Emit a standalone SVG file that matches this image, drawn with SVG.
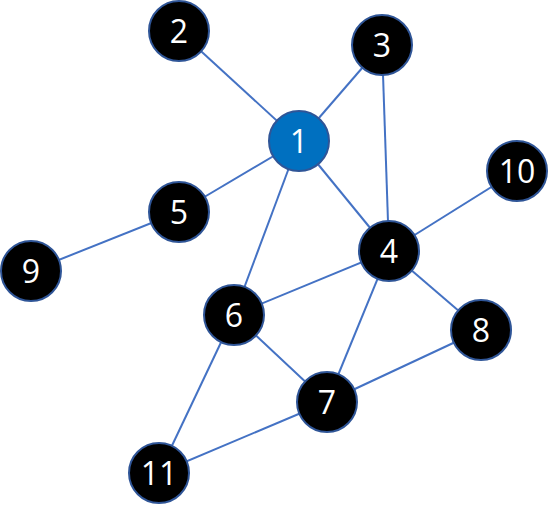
<svg xmlns="http://www.w3.org/2000/svg" width="554" height="505" viewBox="0 0 554 505">
<style>
.n{fill:#000;stroke:#2F5597;stroke-width:2}
.b{fill:#0070C0;stroke:#2F5597;stroke-width:2}
.t{fill:#fff;font-family:"Open Sans","Noto Sans",sans-serif;font-size:32px;text-anchor:middle}
#edges line{stroke:#4472C4;stroke-width:2}
</style>
<rect width="554" height="505" fill="#fff"/>
<g id="edges">
<line x1="299" y1="141" x2="179" y2="31"/>
<line x1="299" y1="141" x2="382" y2="45"/>
<line x1="299" y1="141" x2="179" y2="212"/>
<line x1="299" y1="141" x2="389" y2="251"/>
<line x1="299" y1="141" x2="234" y2="315"/>
<line x1="382" y1="45" x2="389" y2="251"/>
<line x1="389" y1="251" x2="517" y2="171"/>
<line x1="389" y1="251" x2="234" y2="315"/>
<line x1="389" y1="251" x2="481" y2="330"/>
<line x1="389" y1="251" x2="327" y2="402"/>
<line x1="179" y1="212" x2="31" y2="271"/>
<line x1="234" y1="315" x2="327" y2="402"/>
<line x1="234" y1="315" x2="159" y2="473"/>
<line x1="327" y1="402" x2="159" y2="473"/>
<line x1="327" y1="402" x2="481" y2="330"/>
</g>
<g id="node1"><circle class="b" cx="299" cy="141" r="30"/><text class="t" x="299" y="153">1</text></g>
<g id="node2"><circle class="n" cx="179" cy="31" r="30"/><text class="t" x="179" y="43">2</text></g>
<g id="node3"><circle class="n" cx="382" cy="45" r="30"/><text class="t" x="382" y="57">3</text></g>
<g id="node4"><circle class="n" cx="389" cy="251" r="30"/><text class="t" x="389" y="263">4</text></g>
<g id="node5"><circle class="n" cx="179" cy="212" r="30"/><text class="t" x="179" y="224">5</text></g>
<g id="node6"><circle class="n" cx="234" cy="315" r="30"/><text class="t" x="234" y="327">6</text></g>
<g id="node7"><circle class="n" cx="327" cy="402" r="30"/><text class="t" x="327" y="414">7</text></g>
<g id="node8"><circle class="n" cx="481" cy="330" r="30"/><text class="t" x="481" y="342">8</text></g>
<g id="node9"><circle class="n" cx="31" cy="271" r="30"/><text class="t" x="31" y="283">9</text></g>
<g id="node10"><circle class="n" cx="517" cy="171" r="30"/><text class="t" x="517" y="183">10</text></g>
<g id="node11"><circle class="n" cx="159" cy="473" r="30"/><text class="t" x="159" y="485">11</text></g>
</svg>
